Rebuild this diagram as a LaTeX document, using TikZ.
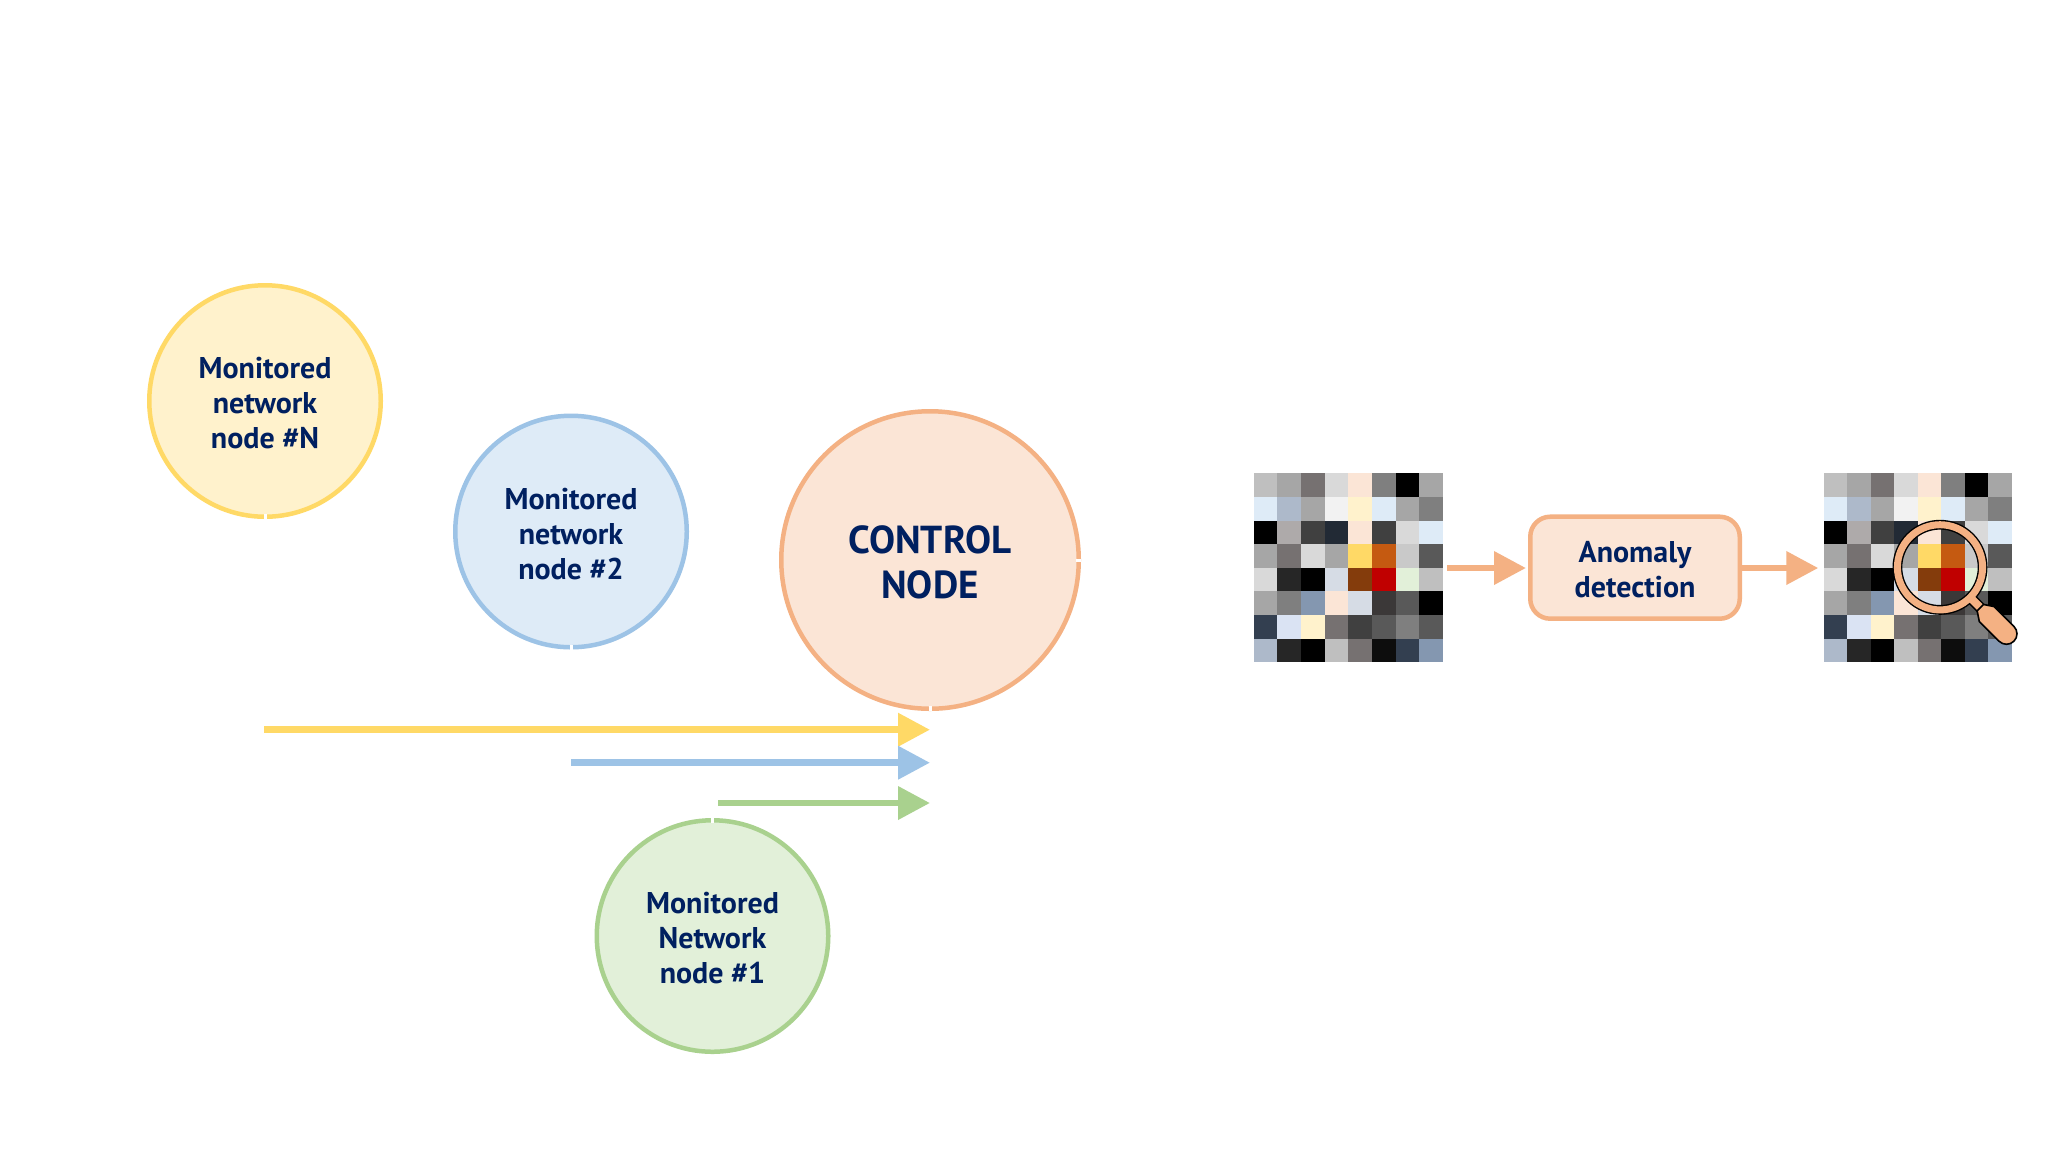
\documentclass[tikz,border=0pt]{standalone}
\usepackage{fontspec}
\setmainfont{PT Sans}
\usetikzlibrary{arrows.meta}
\definecolor{ink}{HTML}{002060}
\definecolor{yel}{HTML}{FFD966}\definecolor{yelf}{HTML}{FFF2CC}
\definecolor{blu}{HTML}{9DC3E6}\definecolor{bluf}{HTML}{DEEBF7}
\definecolor{grn}{HTML}{A9D18E}\definecolor{grnf}{HTML}{E2F0D9}
\definecolor{org}{HTML}{F4B183}\definecolor{orgf}{HTML}{FBE5D6}
\newcommand{\toppad}[1]{\rule{0pt}{#1}}
\newcommand{\pixgrid}[3]{%
  \foreach \rowcols [count=\r from 0] in {%
    {BFBFBF,A6A6A6,767171,D9D9D9,FBE5D6,7F7F7F,000000,A6A6A6},
    {DEEBF7,ADB9CA,A6A6A6,F2F2F2,FFF2CC,DEEBF7,A6A6A6,7F7F7F},
    {000000,AEAAAA,404040,222A35,FBE5D6,404040,D9D9D9,DEEBF7},
    {A6A6A6,767171,D9D9D9,A6A6A6,FFD966,C55A11,C9C9C9,595959},
    {D9D9D9,262626,000000,D6DCE5,843C0C,C00000,E2F0D9,BFBFBF},
    {A6A6A6,7F7F7F,8497B0,FBE5D6,D6DCE5,3B3838,595959,000000},
    {333F50,DAE3F3,FFF2CC,767171,404040,595959,7F7F7F,595959},
    {ADB9CA,262626,000000,BFBFBF,767171,0D0D0D,333F50,8497B0}}{%
    \foreach \c [count=\k from 0] in \rowcols {%
      \definecolor{cellc}{HTML}{\c}%
      \fill[cellc] ({#1+\k*#3},{#2+\r*23.6}) rectangle ++(#3,23.6);
    }}}
\tikzset{
  netnode/.style={circle,line width=2.25pt,minimum size=115.75pt,inner sep=0pt,text=ink,align=center,
     font=\fontsize{15}{17.5}\selectfont\bfseries},
  ctrlnode/.style={circle,line width=2.25pt,minimum size=148.75pt,inner sep=0pt,text=ink,align=center,
     font=\fontsize{19.5}{22.5}\selectfont\bfseries},
  procbox/.style={rectangle,rounded corners=10pt,line width=2.25pt,draw=org,fill=orgf,text=ink,align=center,
     minimum width=104.75pt,minimum height=51pt,inner sep=0pt,font=\fontsize{15}{17.5}\selectfont\bfseries},
  flow/.style={line width=3.4pt,-{Triangle[length=16pt,width=16pt]}},
  notch/.style={fill=white}
}
\begin{document}
\begin{tikzpicture}[x=.5pt,y=-.5pt]
\useasboundingbox (0,0) rectangle (2048,1174);
\fill[white] (0,0) rectangle (2048,1174);
% nodes
\node[netnode,draw=yel,fill=yelf] (nN) at (265,401) {\toppad{12.8pt}Monitored\\network\\node \#N};
\node[netnode,draw=blu,fill=bluf] (n2) at (571,531.5) {\toppad{12.8pt}Monitored\\network\\node \#2};
\node[netnode,draw=grn,fill=grnf] (n1) at (712.5,936) {\toppad{12.8pt}Monitored\\Network\\node \#1};
\node[ctrlnode,draw=org,fill=orgf] (ctrl) at (930,560) {\toppad{16pt}CONTROL\\NODE};
\node[procbox] (det) at (1635,567.7) {\toppad{12.2pt}Anomaly\\detection};
% connection-site notches
\fill[notch] (264,514) rectangle (266.5,519.6);
\fill[notch] (570,645) rectangle (572.5,650.6);
\fill[notch] (711,817.4) rectangle (713.5,823);
\fill[notch] (929,705.5) rectangle (931.5,711.2);
\fill[notch] (1075.5,559) rectangle (1081.3,561.5);
% flows
\coordinate (ya) at (264.3,729.7); \coordinate (yb) at (930,729.7);
\coordinate (ba) at (571,762.7);   \coordinate (bb) at (930,762.7);
\coordinate (ga) at (718.4,803);   \coordinate (gb) at (930,803);
\draw[flow,yel] (ya) -- (yb);
\draw[flow,blu] (ba) -- (bb);
\draw[flow,grn] (ga) -- (gb);
% pixel grids
\pixgrid{1253.7}{473.3}{23.65}
\pixgrid{1823.7}{473.3}{23.5}
\coordinate (ia) at (1447.3,568); \coordinate (ib) at (1526,568);
\coordinate (oa) at (1742,568);  \coordinate (ob) at (1818.3,568);
\draw[flow,org] (ia) -- (ib);
\draw[flow,org] (oa) -- (ob);
% magnifier
\begin{scope}[shift={(1940,567.3)},rotate=-45]
  \draw[black,line width=5.5pt] (44,0) -- (60,0);
  \draw[black,line width=4.9pt] (0,0) circle (42.6);
  \draw[org,line width=4pt] (44,0) -- (60,0);
  \draw[org,line width=3.5pt] (0,0) circle (42.6);
  \draw[draw=black,fill=org,line width=.8pt,line join=round]
    (57,-4.5) -- (66,-10.5) -- (94,-10.5) arc[start angle=-90,end angle=90,radius=10.5]
    -- (66,10.5) -- (57,4.5) -- cycle;
\end{scope}
\end{tikzpicture}
\end{document}
